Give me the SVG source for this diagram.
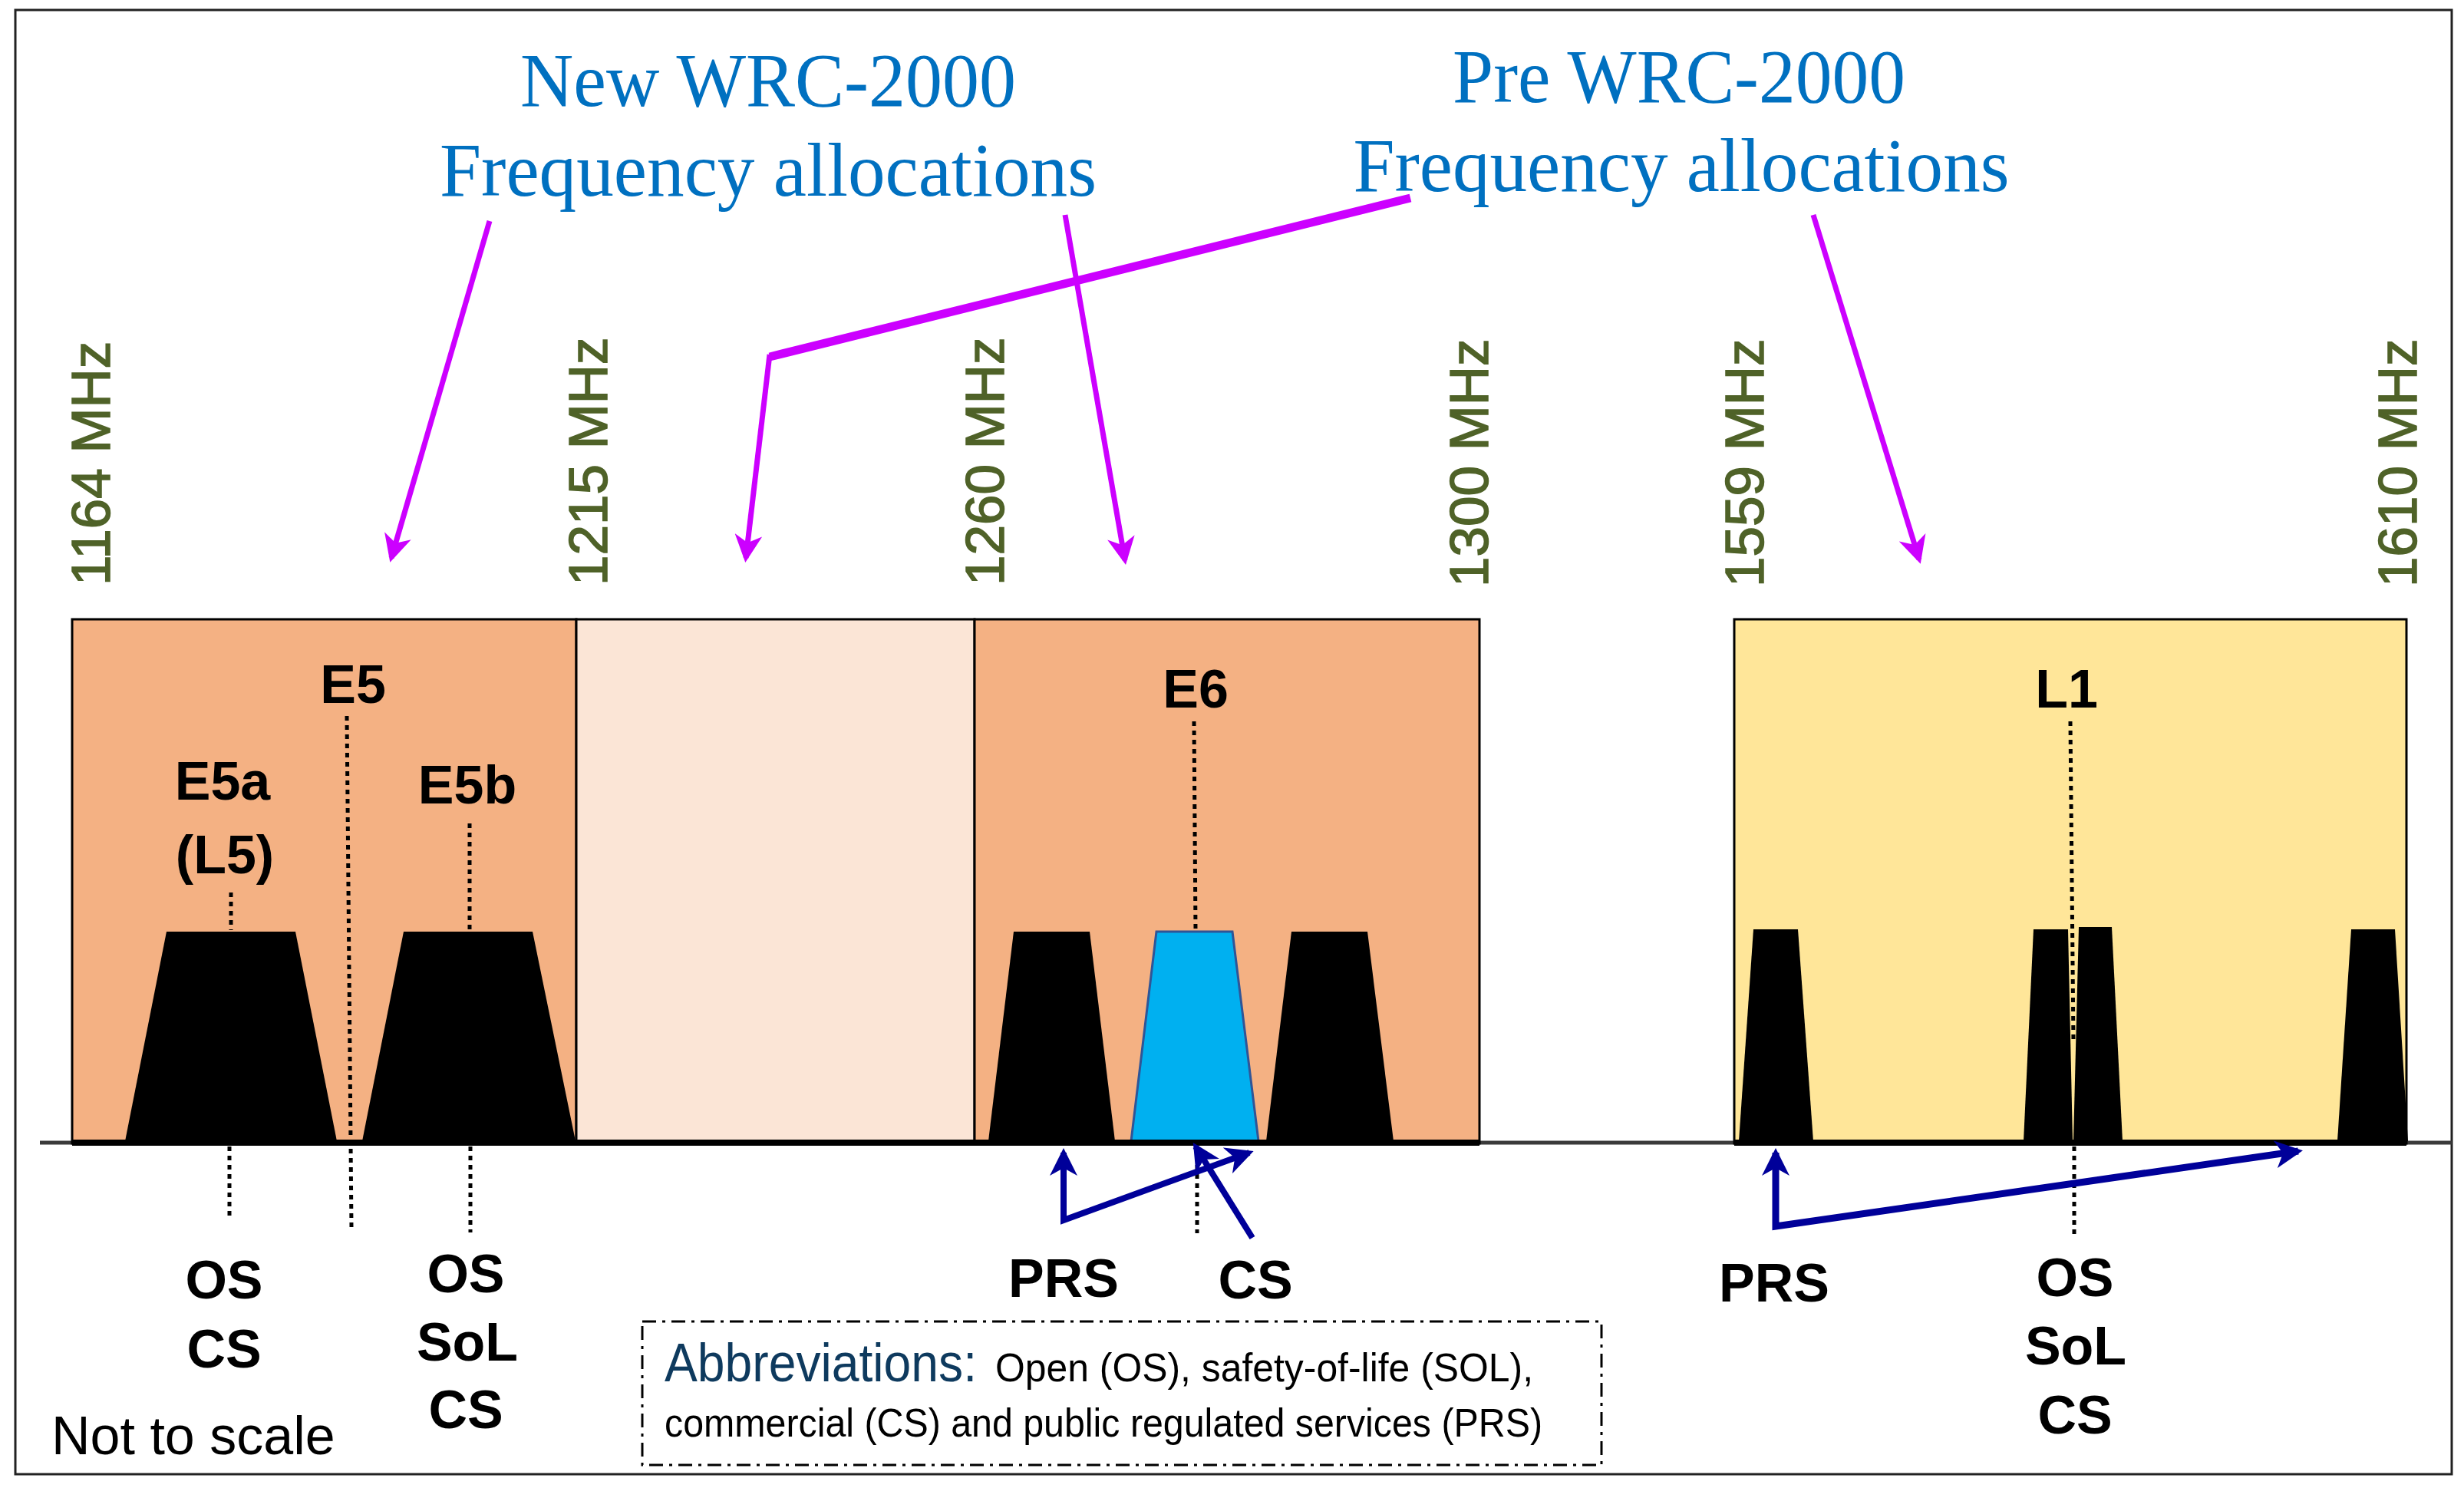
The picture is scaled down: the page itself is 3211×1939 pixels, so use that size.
<svg xmlns="http://www.w3.org/2000/svg" width="3211" height="1939" viewBox="0 0 3211 1939">
<style>
.mhz{font-family:"Liberation Sans",Arial,sans-serif;font-size:71px;fill:#4F6228;stroke:#4F6228;stroke-width:1.5}
.title{font-family:"Liberation Serif","Times New Roman",serif;font-size:100px;fill:#0070C0;text-anchor:middle}
.lbl{font-family:"Liberation Sans",Arial,sans-serif;font-size:70px;font-weight:bold;fill:#000;text-anchor:middle}
.band{stroke:#000;stroke-width:3}
.trap{fill:#000}
.dot{stroke:#000;stroke-width:5;stroke-dasharray:6 6;fill:none}
.mag{stroke:#CC00FF;fill:none;stroke-linecap:butt;stroke-linejoin:miter}
.blu{stroke:#000099;fill:none;stroke-linejoin:miter}
.abbr{font-family:"Liberation Sans",Arial,sans-serif;fill:#000}
</style>
<defs>
<marker id="mArr" markerUnits="userSpaceOnUse" viewBox="0 0 36 36" markerWidth="36" markerHeight="36" refX="30" refY="18" orient="auto-start-reverse">
<path d="M0,0 L36,18 L0,36 L10,18 z" fill="#CC00FF"/>
</marker>
<marker id="bArr" markerUnits="userSpaceOnUse" viewBox="0 0 36 36" markerWidth="36" markerHeight="36" refX="30" refY="18" orient="auto-start-reverse">
<path d="M0,0 L36,18 L0,36 L10,18 z" fill="#000099"/>
</marker>
</defs>
<rect x="0" y="0" width="3211" height="1939" fill="#fff"/>
<rect x="20" y="13" width="3175" height="1908" fill="none" stroke="#222" stroke-width="3"/>

<g id="titles">
<text class="title" x="1001" y="138" textLength="646" lengthAdjust="spacingAndGlyphs">New WRC-2000</text>
<text class="title" x="1001" y="255" textLength="856" lengthAdjust="spacingAndGlyphs">Frequency allocations</text>
<text class="title" x="2188" y="133" textLength="590" lengthAdjust="spacingAndGlyphs">Pre WRC-2000</text>
<text class="title" x="2191" y="249" textLength="855" lengthAdjust="spacingAndGlyphs">Frequency allocations</text>
</g>

<g id="freq-labels">
<text class="mhz" transform="translate(143,763) rotate(-90)">1164 MHz</text>
<text class="mhz" transform="translate(791,763) rotate(-90)">1215 MHz</text>
<text class="mhz" transform="translate(1308,763) rotate(-90)">1260 MHz</text>
<text class="mhz" transform="translate(1939,765) rotate(-90)">1300 MHz</text>
<text class="mhz" transform="translate(2298,765) rotate(-90)">1559 MHz</text>
<text class="mhz" transform="translate(3149,765) rotate(-90)">1610 MHz</text>
</g>

<line x1="52" y1="1489" x2="3195" y2="1489" stroke="#3a3a3a" stroke-width="5"/>

<g id="band-E5">
<rect class="band" x="94" y="807" width="657" height="683" fill="#F4B183"/>
<polygon class="trap" points="217,1214 385,1214 439,1487 163,1487"/>
<polygon class="trap" points="526,1214 694,1214 750,1487 472,1487"/>
<text class="lbl" x="460" y="916">E5</text>
<text class="lbl" x="290" y="1042">E5a</text>
<text class="lbl" x="293" y="1138">(L5)</text>
<text class="lbl" x="609" y="1047">E5b</text>
<line class="dot" x1="452" y1="933" x2="458" y2="1600"/>
<line class="dot" x1="301" y1="1163" x2="301" y2="1212"/>
<line class="dot" x1="299" y1="1494" x2="299" y2="1588"/>
<line class="dot" x1="612" y1="1073" x2="612" y2="1212"/>
<line class="dot" x1="613" y1="1494" x2="613" y2="1606"/>
</g>

<g id="band-gap">
<rect class="band" x="751" y="807" width="519" height="683" fill="#FBE5D6"/>
</g>

<g id="band-E6">
<rect class="band" x="1270" y="807" width="658" height="683" fill="#F4B183"/>
<polygon class="trap" points="1321,1214 1420,1214 1453,1487 1288,1487"/>
<polygon points="1507,1214 1606,1214 1640,1487 1474,1487" fill="#00B0F0" stroke="#2F5597" stroke-width="3"/>
<polygon class="trap" points="1683,1214 1782,1214 1816,1487 1650,1487"/>
<text class="lbl" x="1558" y="922">E6</text>
<line class="dot" x1="1556" y1="940" x2="1558" y2="1212"/>
<line class="dot" x1="1560" y1="1494" x2="1560" y2="1607"/>
</g>

<g id="band-L1">
<rect class="band" x="2260" y="807" width="876" height="683" fill="#FFE699"/>
<polygon class="trap" points="2285,1211 2343,1211 2363,1487 2266,1487"/>
<polygon class="trap" points="2650,1211 2695,1211 2701,1487 2637,1487"/>
<polygon class="trap" points="2709,1208 2752,1208 2766,1487 2702,1487"/>
<polygon class="trap" points="3064,1211 3121,1211 3138,1487 3046,1487"/>
<text class="lbl" x="2693" y="922">L1</text>
<line class="dot" x1="2698" y1="940" x2="2702" y2="1357" stroke="#111"/>
<line class="dot" x1="2703" y1="1494" x2="2703" y2="1608"/>
</g>

<line x1="94" y1="1489" x2="1928" y2="1489" stroke="#000" stroke-width="8"/>
<line x1="2260" y1="1489" x2="3136" y2="1489" stroke="#000" stroke-width="8"/>

<g id="connectors">
<path class="mag" d="M638,288 L510,727" stroke-width="7" marker-end="url(#mArr)"/>
<path class="mag" d="M1388,280 L1466,730" stroke-width="7" marker-end="url(#mArr)"/>
<path class="mag" d="M1838,258 L1003,465" stroke-width="11"/>
<path class="mag" d="M1003,462 L972,727" stroke-width="7" marker-end="url(#mArr)"/>
<path class="mag" d="M2363,280 L2501,729" stroke-width="7" marker-end="url(#mArr)"/>
<path class="blu" d="M1386,1502 L1386,1590 L1628,1502" stroke-width="8" marker-start="url(#bArr)" marker-end="url(#bArr)"/>
<path class="blu" d="M1632,1613 L1558,1494" stroke-width="8" marker-end="url(#bArr)"/>
<path class="blu" d="M2314,1502 L2314,1598 L2995,1500" stroke-width="9" marker-start="url(#bArr)" marker-end="url(#bArr)"/>
</g>

<g id="service-labels">
<text class="lbl" x="292" y="1692">OS</text>
<text class="lbl" x="292" y="1782">CS</text>
<text class="lbl" x="607" y="1684">OS</text>
<text class="lbl" x="609" y="1773">SoL</text>
<text class="lbl" x="607" y="1861">CS</text>
<text class="lbl" x="1386" y="1690">PRS</text>
<text class="lbl" x="1636" y="1692">CS</text>
<text class="lbl" x="2312" y="1696">PRS</text>
<text class="lbl" x="2704" y="1689">OS</text>
<text class="lbl" x="2705" y="1778">SoL</text>
<text class="lbl" x="2704" y="1868">CS</text>
<text x="67" y="1895" font-family="Liberation Sans, Arial, sans-serif" font-size="70" fill="#000">Not to scale</text>
</g>

<g id="abbreviations">
<rect x="837" y="1722" width="1250" height="187" fill="none" stroke="#000" stroke-width="3" stroke-dasharray="18 8 4 8"/>
<text class="abbr" x="866" y="1800" font-size="70" style="fill:#0E3A5E" textLength="407" lengthAdjust="spacingAndGlyphs">Abbreviations:</text>
<text class="abbr" x="1297" y="1800" font-size="52" textLength="701" lengthAdjust="spacingAndGlyphs">Open (OS), safety-of-life (SOL),</text>
<text class="abbr" x="866" y="1872" font-size="52" textLength="1144" lengthAdjust="spacingAndGlyphs">commercial (CS) and public regulated services (PRS)</text>
</g>
</svg>
